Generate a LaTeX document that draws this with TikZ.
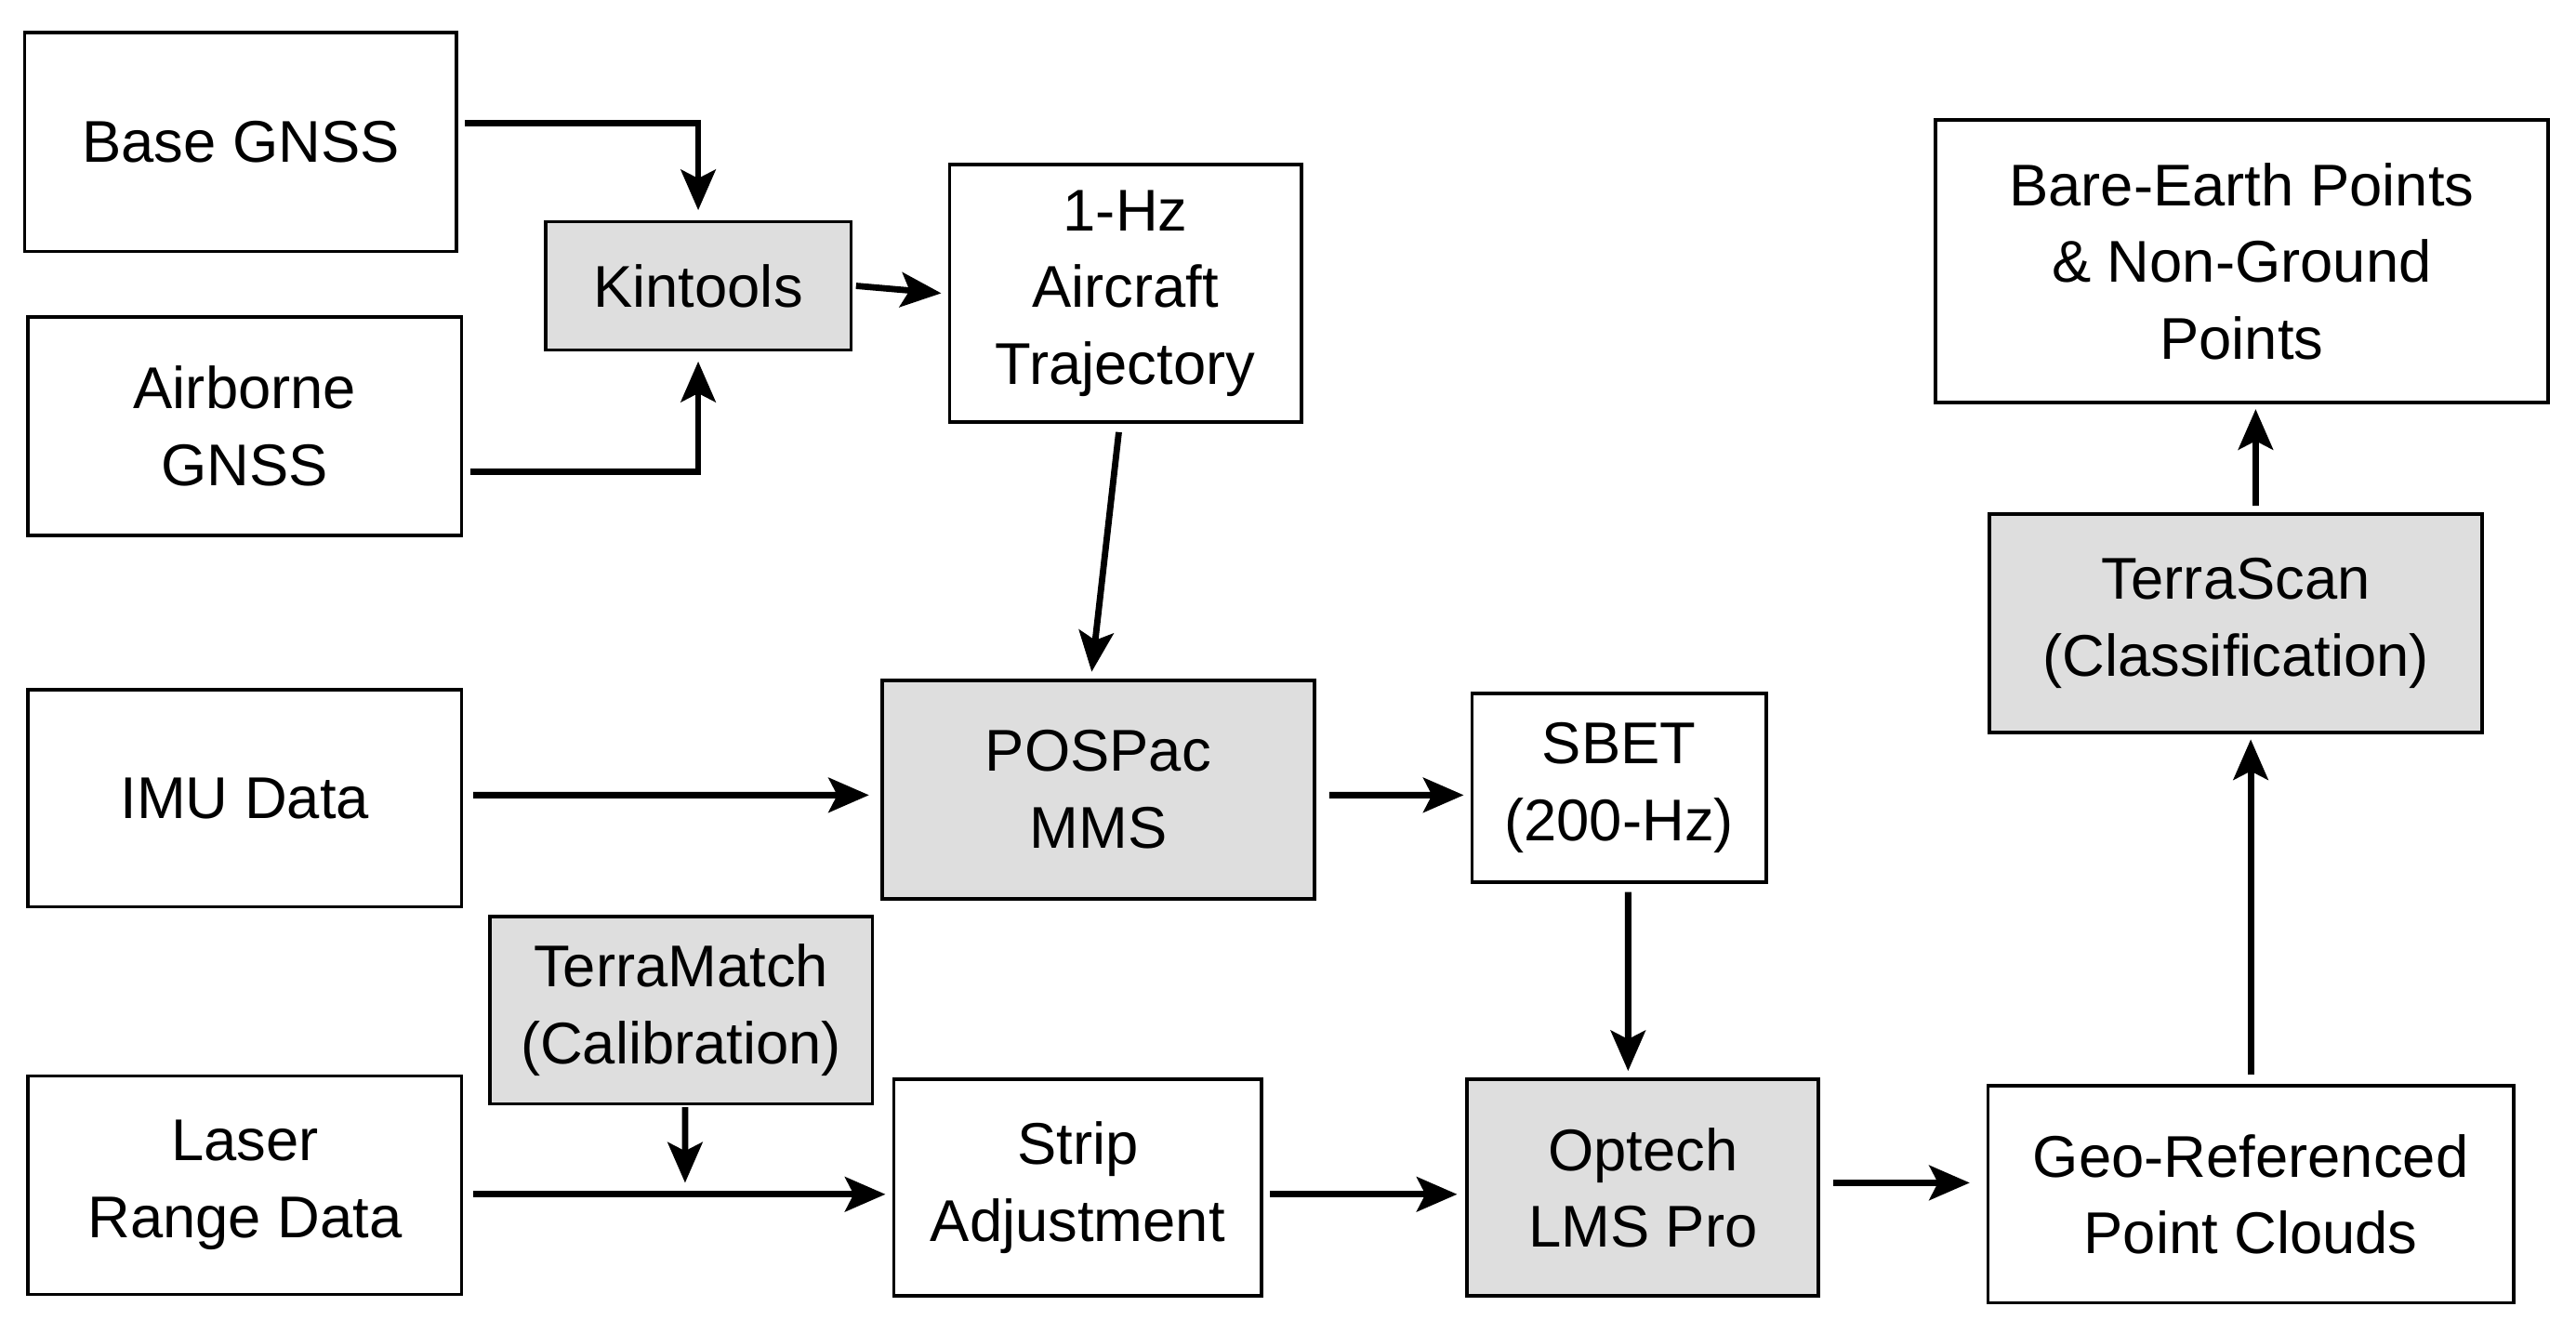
\documentclass[tikz,border=0pt]{standalone}
\usepackage{fontspec}
\setmainfont{Liberation Sans}
\usetikzlibrary{arrows.meta}
\begin{document}
\begin{tikzpicture}[
  box/.style={draw=black, line width=0.6pt, align=center, inner sep=0pt,
    font=\fontsize{10.2pt}{13.3pt}\selectfont},
  gbox/.style={box, fill=black!13},
  arr/.style={line width=1.1pt, -{Stealth[length=7pt,width=6pt,inset=1.5pt]}}
]
\useasboundingbox[fill=white] (0,0) rectangle (15.68,-8.11);
\node[box, minimum width=2.63cm, minimum height=1.33cm] (base) at (1.465,-0.865) {Base GNSS};
\node[box, minimum width=2.64cm, minimum height=1.33cm] (air) at (1.49,-2.595) {Airborne\\GNSS};
\node[gbox, minimum width=1.86cm, minimum height=0.78cm] (kin) at (4.25,-1.74) {Kintools};
\node[box, minimum width=2.14cm, minimum height=1.57cm] (traj) at (6.85,-1.785) {1-Hz\\Aircraft\\Trajectory};
\node[box, minimum width=2.64cm, minimum height=1.32cm] (imu) at (1.49,-4.86) {IMU Data};
\node[gbox, minimum width=2.63cm, minimum height=1.33cm] (pos) at (6.685,-4.805) {POSPac\\MMS};
\node[box, minimum width=1.79cm, minimum height=1.15cm] (sbet) at (9.855,-4.795) {SBET\\(200-Hz)};
\node[gbox, minimum width=2.33cm, minimum height=1.14cm] (tm) at (4.145,-6.15) {TerraMatch\\(Calibration)};
\node[box, minimum width=2.64cm, minimum height=1.33cm] (laser) at (1.49,-7.215) {Laser\\Range Data};
\node[box, minimum width=2.24cm, minimum height=1.32cm] (strip) at (6.56,-7.23) {Strip\\Adjustment};
\node[gbox, minimum width=2.14cm, minimum height=1.32cm] (opt) at (10.0,-7.23) {Optech\\LMS Pro};
\node[box, minimum width=3.20cm, minimum height=1.32cm] (geo) at (13.70,-7.27) {Geo-Referenced\\Point Clouds};
\node[gbox, minimum width=3.00cm, minimum height=1.33cm] (ts) at (13.61,-3.795) {TerraScan\\(Classification)};
\node[box, minimum width=3.73cm, minimum height=1.72cm] (bare) at (13.645,-1.59) {Bare-Earth Points\\\& Non-Ground\\Points};
\coordinate (tmj) at (4.17,-7.20);

\draw[arr] ([xshift=0.04cm,yshift=0.115cm]base.east) -| ([yshift=0.06cm]kin.north);
\draw[arr] ([xshift=0.04cm,yshift=-0.275cm]air.east) -| ([yshift=-0.06cm]kin.south);
\draw[arr] ([xshift=0.02cm]kin.east) -- ([xshift=-0.04cm]traj.west);
\draw[arr] ([xshift=-0.04cm,yshift=-0.05cm]traj.south) -- ([xshift=-0.04cm,yshift=0.04cm]pos.north);
\draw[arr] ([xshift=0.06cm,yshift=0.02cm]imu.east) -- ([xshift=-0.07cm,yshift=-0.035cm]pos.west);
\draw[arr] ([xshift=0.08cm,yshift=-0.035cm]pos.east) -- ([xshift=-0.04cm,yshift=-0.045cm]sbet.west);
\draw[arr] ([xshift=0.055cm,yshift=-0.05cm]sbet.south) -- ([xshift=-0.09cm,yshift=0.04cm]opt.north);
\draw[arr] ([xshift=0.06cm,yshift=-0.055cm]laser.east) -- ([xshift=-0.04cm,yshift=-0.04cm]strip.west);
\draw[arr] ([xshift=0.025cm,yshift=-0.01cm]tm.south) -- (tmj);
\draw[arr] ([xshift=0.04cm,yshift=-0.04cm]strip.east) -- ([xshift=-0.05cm,yshift=-0.04cm]opt.west);
\draw[arr] ([xshift=0.08cm,yshift=0.03cm]opt.east) -- ([xshift=-0.1cm,yshift=0.07cm]geo.west);
\draw[arr] ([yshift=0.06cm]geo.north) -- ([xshift=0.09cm,yshift=-0.03cm]ts.south);
\draw[arr] ([xshift=0.12cm,yshift=0.04cm]ts.north) -- ([xshift=0.085cm,yshift=-0.03cm]bare.south);
\end{tikzpicture}
\end{document}
